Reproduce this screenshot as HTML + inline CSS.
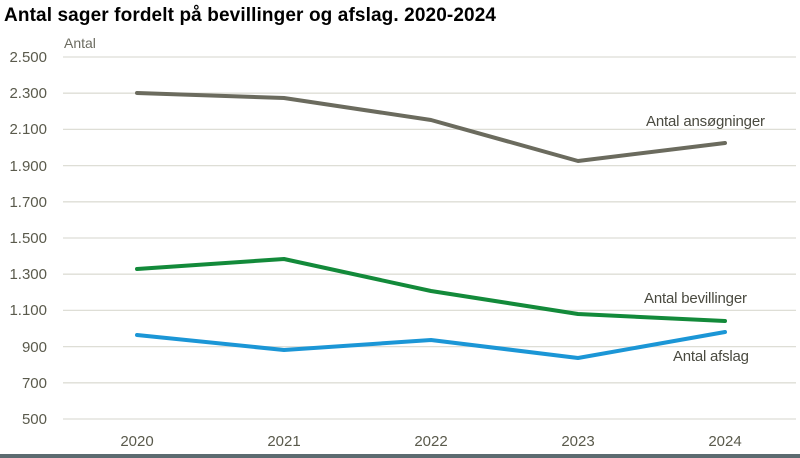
<!DOCTYPE html>
<html><head><meta charset="utf-8"><style>
body{margin:0;background:#fff;width:800px;height:458px;overflow:hidden}
svg{display:block}
text{font-family:"Liberation Sans",sans-serif}
</style></head><body>
<svg width="800" height="458" viewBox="0 0 800 458">
<text x="4" y="21" font-size="19" font-weight="bold" fill="#000" textLength="492">Antal sager fordelt på bevillinger og afslag. 2020-2024</text>
<text x="64" y="48" font-size="14" fill="#6b6b60">Antal</text>
<g stroke="#deded6" stroke-width="1.3">
<line x1="63" y1="57" x2="796" y2="57"/><line x1="63" y1="93.2" x2="796" y2="93.2"/>
<line x1="63" y1="129.4" x2="796" y2="129.4"/><line x1="63" y1="165.6" x2="796" y2="165.6"/>
<line x1="63" y1="201.8" x2="796" y2="201.8"/><line x1="63" y1="238" x2="796" y2="238"/>
<line x1="63" y1="274.2" x2="796" y2="274.2"/><line x1="63" y1="310.4" x2="796" y2="310.4"/>
<line x1="63" y1="346.6" x2="796" y2="346.6"/><line x1="63" y1="382.8" x2="796" y2="382.8"/>
<line x1="63" y1="419" x2="796" y2="419"/>
</g>
<g font-size="15" fill="#5a5a4c" text-anchor="end">
<text x="47" y="62">2.500</text><text x="47" y="98">2.300</text><text x="47" y="134">2.100</text>
<text x="47" y="171">1.900</text><text x="47" y="207">1.700</text><text x="47" y="243">1.500</text>
<text x="47" y="279">1.300</text><text x="47" y="315">1.100</text><text x="47" y="352">900</text>
<text x="47" y="388">700</text><text x="47" y="424">500</text>
</g>
<g font-size="15" fill="#5a5a4c" text-anchor="middle">
<text x="137" y="446">2020</text><text x="284" y="446">2021</text><text x="431" y="446">2022</text>
<text x="578" y="446">2023</text><text x="725" y="446">2024</text>
</g>
<rect x="0" y="454" width="800" height="4" fill="#5c6b70"/>
<g fill="none" stroke-width="4" stroke-linejoin="round" stroke-linecap="round">
<polyline stroke="#6b6b5e" points="137,93 284,98 431,120 578,161 725,143"/>
<polyline stroke="#138a3a" points="137,269 284,259 431,291 578,314 725,321"/>
<polyline stroke="#1b96d6" points="137,335 284,350 431,340 578,358 725,332"/>
</g>
<g font-size="15" fill="#4a4a40">
<text x="646" y="126" textLength="119">Antal ansøgninger</text>
<text x="644" y="303" textLength="103">Antal bevillinger</text>
<text x="673" y="361" textLength="76">Antal afslag</text>
</g>
</svg>
</body></html>
